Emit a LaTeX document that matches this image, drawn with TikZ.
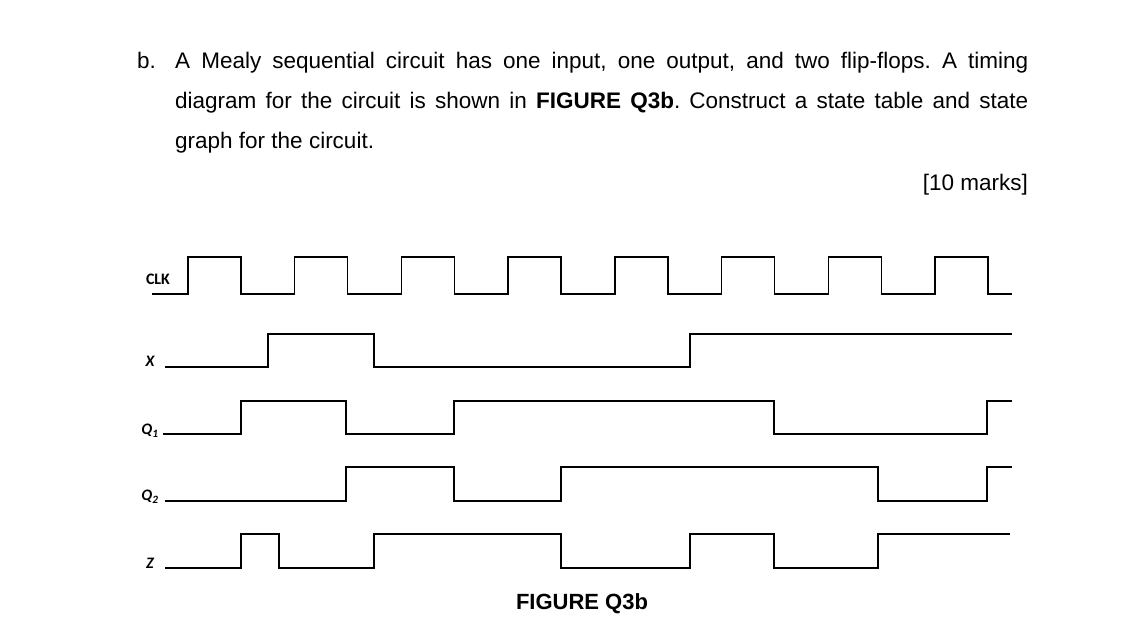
\documentclass[tikz,border=0pt]{standalone}
\usepackage{fontspec}
\setmainfont{Liberation Sans}
\newfontfamily\lblfont{Carlito}
\begin{document}
\frenchspacing
\begin{tikzpicture}[x=1pt,y=-1pt,wave/.style={line width=1.4pt,line join=miter},
  lbl/.style={font=\lblfont\bfseries\fontsize{16}{18}\selectfont,anchor=center},
  txt/.style={font=\fontsize{22.5}{26}\selectfont,inner sep=0pt},
  jline/.style={txt,anchor=base west}]
\useasboundingbox (0,0) rectangle (1140,630);
\node[txt,anchor=base west] (b) at (137,68) {b.};
\node[jline] (l1) at (175,68) {\makebox[853pt][s]{A Mealy sequential circuit has one input, one output, and two flip-flops. A timing}};
\node[jline] (l2) at (175,108) {\makebox[853pt][s]{diagram for the circuit is shown in \textbf{FIGURE Q3b}. Construct a state table and state}};
\node[txt,anchor=base west] (l3) at (175,148) {graph for the circuit.};
\node[txt,anchor=base east] (marks) at (1028,190) {[10 marks]};
\node[txt,font=\bfseries\fontsize{22}{26}\selectfont] (fig) at (582,604) {FIGURE Q3b};
\node[lbl] (clk) at (158,279) {CLK};
\node[lbl] (x) at (150,361) {\itshape X};
\node[lbl] (q1) at (150,431) {\itshape Q\textsubscript{1}};
\node[lbl] (q2) at (150,497) {\itshape Q\textsubscript{2}};
\node[lbl] (z) at (150,563) {\itshape Z};
% CLK
\draw[wave] (152,294)
  \foreach \k in {0,...,7} {
    -- ({188+106.7*\k},294) -- ({188+106.7*\k},257) -- ({241+106.7*\k},257) -- ({241+106.7*\k},294)
  } -- (1012,294);
% X
\draw[wave] (165,367) -- (268,367) -- (268,334) -- (374,334) -- (374,367) -- (690,367) -- (690,334) -- (1012,334);
% Q1
\draw[wave] (163,434) -- (241,434) -- (241,401) -- (346,401) -- (346,434) -- (454,434) -- (454,401) -- (774,401) -- (774,434) -- (987,434) -- (987,401) -- (1012,401);
% Q2
\draw[wave] (165,501) -- (346,501) -- (346,467) -- (454,467) -- (454,501) -- (561,501) -- (561,467) -- (878,467) -- (878,501) -- (987,501) -- (987,467) -- (1012,467);
% Z
\draw[wave] (165,568) -- (241,568) -- (241,534) -- (279,534) -- (279,568) -- (374,568) -- (374,534) -- (561,534) -- (561,568) -- (690,568) -- (690,534) -- (774,534) -- (774,568) -- (878,568) -- (878,534) -- (1010,534);
\end{tikzpicture}
\end{document}
